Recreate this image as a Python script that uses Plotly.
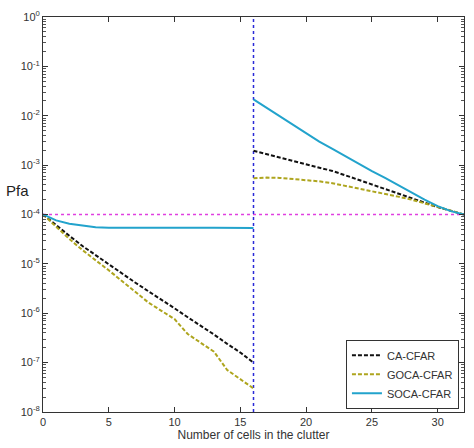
import plotly.graph_objects as go

# Number of cells in the clutter
x_left = list(range(0, 17))
x_right = list(range(16, 33))

# Pfa values, left segment (x = 0..16)
ca_left = [1.0e-4, 6.0e-5, 3.7e-5, 2.3e-5, 1.5e-5, 9.5e-6, 6.3e-6, 4.2e-6, 2.8e-6,
           1.9e-6, 1.26e-6, 8.3e-7, 5.6e-7, 3.7e-7, 2.4e-7, 1.6e-7, 1.0e-7]
goca_left = [1.0e-4, 5.6e-5, 3.2e-5, 1.9e-5, 1.2e-5, 7.4e-6, 4.5e-6, 2.7e-6, 1.66e-6,
             1.12e-6, 7.6e-7, 3.8e-7, 2.5e-7, 1.66e-7, 7.1e-8, 4.7e-8, 3.0e-8]
soca_left = [1.0e-4, 7.6e-5, 6.5e-5, 5.9e-5, 5.5e-5, 5.4e-5, 5.35e-5, 5.35e-5, 5.4e-5,
             5.4e-5, 5.35e-5, 5.4e-5, 5.4e-5, 5.4e-5, 5.35e-5, 5.35e-5, 5.3e-5]

# Pfa values, right segment (x = 16..32)
ca_right = [1.95e-3, 1.66e-3, 1.41e-3, 1.2e-3, 1.05e-3, 8.9e-4, 7.6e-4, 6.2e-4, 5.0e-4,
            4.0e-4, 3.2e-4, 2.6e-4, 2.1e-4, 1.74e-4, 1.41e-4, 1.17e-4, 1.0e-4]
goca_right = [5.4e-4, 5.6e-4, 5.5e-4, 5.25e-4, 5.0e-4, 4.7e-4, 4.3e-4, 3.8e-4, 3.4e-4,
              3.0e-4, 2.6e-4, 2.3e-4, 2.0e-4, 1.7e-4, 1.45e-4, 1.2e-4, 1.0e-4]
soca_right = [2.14e-2, 1.45e-2, 1.0e-2, 6.6e-3, 4.5e-3, 3.0e-3, 2.14e-3, 1.5e-3, 1.07e-3,
              7.6e-4, 5.5e-4, 3.9e-4, 2.75e-4, 2.0e-4, 1.48e-4, 1.17e-4, 1.0e-4]

names = ["CA-CFAR", "GOCA-CFAR", "SOCA-CFAR"]
y_tick_vals = [1e0, 1e-1, 1e-2, 1e-3, 1e-4, 1e-5, 1e-6, 1e-7, 1e-8]
y_tick_text = ["10<sup>0</sup>", "10<sup>-1</sup>", "10<sup>-2</sup>", "10<sup>-3</sup>",
               "10<sup>-4</sup>", "10<sup>-5</sup>", "10<sup>-6</sup>", "10<sup>-7</sup>",
               "10<sup>-8</sup>"]
pfa_threshold = 1e-4
split_x = 16

series = [
    (names[0], ca_left, ca_right, "#111111", "4px,2px"),
    (names[1], goca_left, goca_right, "#aea51e", "4px,2px"),
    (names[2], soca_left, soca_right, "#22a3cc", "solid"),
]

fig = go.Figure()

# reference lines
fig.add_trace(go.Scatter(x=[0, 32], y=[pfa_threshold, pfa_threshold], mode="lines",
                         line=dict(color="#e040e0", width=1.5, dash="dot"),
                         showlegend=False, hoverinfo="skip"))
fig.add_trace(go.Scatter(x=[split_x, split_x], y=[1e-8, 1], mode="lines",
                         line=dict(color="#2a2ad8", width=1.5, dash="dot"),
                         showlegend=False, hoverinfo="skip"))

for name, left, right, color, dash in series:
    xs = x_left + [None] + x_right
    ys = left + [None] + right
    fig.add_trace(go.Scatter(x=xs, y=ys, mode="lines", name=name,
                             connectgaps=False,
                             line=dict(color=color, width=2, dash=dash)))

fig.update_layout(
    width=474, height=448,
    margin=dict(l=43, r=9, t=14, b=34),
    paper_bgcolor="white", plot_bgcolor="white",
    font=dict(family="Arial, Liberation Sans, sans-serif", size=11, color="#333333"),
    legend=dict(x=0.988, y=0.008, xanchor="right", yanchor="bottom",
                bgcolor="white", bordercolor="#333333", borderwidth=1,
                font=dict(size=11, color="#333333"), tracegroupgap=0,
                itemwidth=30),
    showlegend=True,
)

fig.update_xaxes(range=[0, 32], tickmode="linear", tick0=0, dtick=5,
                 ticks="inside", ticklen=5, tickcolor="#333333",
                 showline=True, linecolor="#333333", linewidth=1, mirror="ticks",
                 showgrid=False, zeroline=False,
                 title=dict(text="Number of cells in the clutter", font=dict(size=12), standoff=2))

fig.update_yaxes(type="log", range=[-8, 0], tickmode="array",
                 tickvals=y_tick_vals, ticktext=y_tick_text,
                 ticks="inside", ticklen=5, tickcolor="#333333",
                 minor=dict(ticks="inside", ticklen=3, dtick="D1", tickcolor="#555555"),
                 showline=True, linecolor="#333333", linewidth=1, mirror="ticks",
                 showgrid=False, zeroline=False)

fig.add_annotation(text="Pfa", xref="paper", yref="paper", x=-0.06, y=0.56,
                   xanchor="center", yanchor="middle", showarrow=False,
                   font=dict(size=15, color="#222222"))

fig.write_html("out.html")
